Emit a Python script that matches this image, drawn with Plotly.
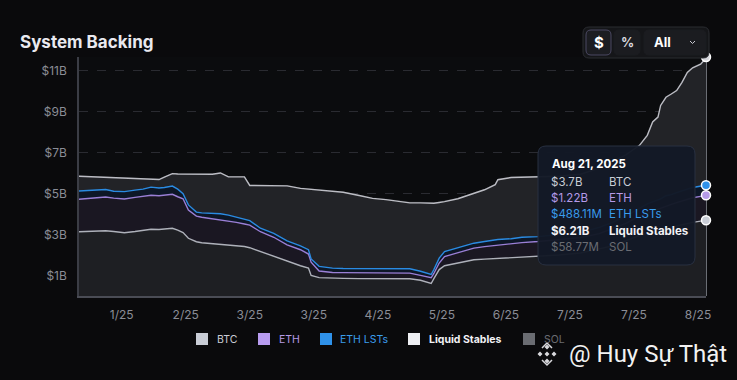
import plotly.graph_objects as go
import numpy as np

# ---------------- data ($B) ----------------
dates = [
    "2024-12-29", "2025-01-02", "2025-01-08", "2025-01-11", "2025-01-15", "2025-01-19",
    "2025-01-22", "2025-01-25", "2025-01-28", "2025-01-30", "2025-02-02", "2025-02-04",
    "2025-02-06", "2025-02-08", "2025-02-11", "2025-02-13", "2025-02-17", "2025-02-20",
    "2025-02-23", "2025-02-26", "2025-03-01", "2025-03-03", "2025-03-07", "2025-03-12",
    "2025-03-17", "2025-03-22", "2025-03-25", "2025-03-26", "2025-03-29", "2025-04-03",
    "2025-04-07", "2025-04-13", "2025-04-18", "2025-04-23", "2025-04-28", "2025-05-02",
    "2025-05-06", "2025-05-08", "2025-05-10", "2025-05-11", "2025-05-13", "2025-05-15",
    "2025-05-20", "2025-05-26", "2025-05-30", "2025-06-03", "2025-06-04", "2025-06-09",
    "2025-06-13", "2025-06-19", "2025-06-27", "2025-07-05", "2025-07-12", "2025-07-17",
    "2025-07-22", "2025-07-27", "2025-07-30", "2025-08-01", "2025-08-03", "2025-08-04",
    "2025-08-06", "2025-08-08", "2025-08-10", "2025-08-12", "2025-08-14", "2025-08-16",
    "2025-08-19", "2025-08-21",
]
btc = [
    3.14, 3.15, 3.19, 3.15, 3.09, 3.15, 3.22, 3.26, 3.25, 3.28, 3.31, 3.22,
    3.10, 2.82, 2.65, 2.60, 2.56, 2.53, 2.48, 2.44, 2.42, 2.36, 2.17, 1.93,
    1.69, 1.48, 1.37, 1.00, 0.90, 0.87, 0.86, 0.85, 0.85, 0.85, 0.85, 0.84,
    0.77, 0.70, 0.61, 0.85, 1.29, 1.48, 1.61, 1.77, 1.80, 1.83, 1.84, 1.87,
    1.90, 1.93, 2.00, 2.10, 2.30, 2.45, 2.70, 2.95, 3.05, 3.10, 3.18, 3.22,
    3.30, 3.35, 3.42, 3.48, 3.55, 3.60, 3.66, 3.70,
]
eth = [
    1.59, 1.61, 1.65, 1.63, 1.65, 1.67, 1.66, 1.66, 1.65, 1.65, 1.66, 1.63,
    1.65, 1.38, 1.25, 1.25, 1.22, 1.21, 1.20, 1.16, 1.10, 1.10, 0.97, 0.94,
    0.81, 0.78, 0.68, 0.65, 0.32, 0.28, 0.28, 0.28, 0.28, 0.28, 0.28, 0.28,
    0.24, 0.25, 0.28, 0.25, 0.32, 0.45, 0.52, 0.57, 0.61, 0.64, 0.65, 0.68,
    0.71, 0.73, 0.75, 0.75, 0.75, 0.85, 0.85, 0.95, 1.00, 1.05, 1.07, 1.08,
    1.10, 1.13, 1.14, 1.17, 1.17, 1.20, 1.21, 1.22,
]
eth_lsts = [
    0.40, 0.39, 0.36, 0.34, 0.36, 0.35, 0.34, 0.40, 0.38, 0.37, 0.40, 0.37,
    0.25, 0.25, 0.20, 0.21, 0.26, 0.28, 0.27, 0.25, 0.24, 0.22, 0.17, 0.19,
    0.19, 0.19, 0.21, 0.16, 0.23, 0.21, 0.20, 0.21, 0.22, 0.21, 0.20, 0.21,
    0.20, 0.18, 0.16, 0.19, 0.24, 0.24, 0.24, 0.24, 0.25, 0.27, 0.27, 0.25,
    0.26, 0.24, 0.25, 0.25, 0.30, 0.30, 0.35, 0.40, 0.45, 0.45, 0.45, 0.45,
    0.50, 0.47, 0.49, 0.50, 0.50, 0.50, 0.49, 0.488,
]
liquid_stables = [
    0.72, 0.68, 0.61, 0.68, 0.68, 0.57, 0.50, 0.38, 0.41, 0.51, 0.61, 0.74,
    0.96, 1.51, 1.85, 1.89, 1.91, 1.99, 1.87, 1.97, 2.06, 1.72, 2.09, 2.33,
    2.69, 2.81, 2.97, 3.41, 3.74, 3.77, 3.73, 3.57, 3.42, 3.37, 3.31, 3.22,
    3.34, 3.42, 3.47, 3.24, 2.72, 2.44, 2.38, 2.45, 2.53, 2.70, 2.92, 2.99,
    2.93, 2.91, 2.85, 2.85, 2.90, 2.95, 3.00, 3.05, 3.35, 3.90, 4.04, 4.56,
    4.81, 4.92, 4.99, 5.29, 5.70, 5.85, 5.97, 6.21,
]
sol = [0.04] * 35 + [0.05] * 32 + [0.059]

series_names = ["BTC", "ETH", "ETH LSTs", "Liquid Stables", "SOL"]
tooltip_date = "Aug 21, 2025"
tooltip_values = ["$3.7B", "$1.22B", "$488.11M", "$6.21B", "$58.77M"]

x_tick_dates = ["2025-01-14", "2025-02-07", "2025-03-03", "2025-03-27", "2025-04-20",
                "2025-05-14", "2025-06-07", "2025-07-01", "2025-07-25", "2025-08-18"]
x_tick_labels = ["1/25", "2/25", "3/25", "3/25", "4/25", "5/25", "6/25", "7/25", "7/25", "8/25"]
y_tick_vals = [1, 3, 5, 7, 9, 11]
y_tick_labels = ["$1B", "$3B", "$5B", "$7B", "$9B", "$11B"]

# ---------------- styling ----------------
W, H = 737, 380
L, R, T, B = 79, 706, 57, 296
FONT = "Inter"

line_colors = ["#aeb1ba", "#9a7fd6", "#2a8be2", "#bcbdc4", "rgba(0,0,0,0)"]
fill_colors = ["#1e1f23", "#1a1722", "#0d1727", "#222327", "#26272b"]
legend_colors = ["#c9cdd6", "#b89cf0", "#2f92ea", "#eeeff3", "#6a6c72"]
text_colors = ["#c9cdd6", "#b59ae8", "#3a9cec", "#f2f2f6", "#6a6c72"]


def X(px):
    return (px - L) / (R - L)


def Y(py):
    return (B - py) / (B - T)


fig = go.Figure()
all_series = [btc, eth, eth_lsts, liquid_stables, sol]
for name, vals, lc, fc in zip(series_names, all_series, line_colors, fill_colors):
    fig.add_trace(go.Scatter(
        x=dates, y=vals, name=name, mode="lines", stackgroup="one",
        line=dict(color=lc, width=1.4), fillcolor=fc, showlegend=False, hoverinfo="skip",
    ))

# hover markers at last date (cumulative tops)
cum = np.cumsum(np.array(all_series), axis=0)
marker_cols = ["#c9cdd6", "#b59ae8", "#2f92ea", None, "#d4d5db"]
for i, mc in enumerate(marker_cols):
    if mc is None:
        continue
    fig.add_trace(go.Scatter(
        x=[dates[-1]], y=[cum[i, -1]], mode="markers", showlegend=False, hoverinfo="skip",
        marker=dict(size=9, color=mc, line=dict(color="#ffffff", width=1.5)),
        cliponaxis=False,
    ))

shapes = []
annotations = []


def note(px, py, text, size, color, xanchor="left", family=FONT):
    annotations.append(dict(x=X(px), y=Y(py), xref="paper", yref="paper", text=text,
                            showarrow=False, xanchor=xanchor, yanchor="middle",
                            font=dict(family=family, size=size, color=color)))


# crosshair
shapes.append(dict(type="line", xref="paper", yref="paper", x0=1, x1=1, y0=0, y1=1,
                   line=dict(color="#8d9099", width=1.5), layer="below"))


def rrect(x0, y0, x1, y1, r):
    return (f"M {X(x0 + r)} {Y(y0)} L {X(x1 - r)} {Y(y0)} Q {X(x1)} {Y(y0)} {X(x1)} {Y(y0 + r)} "
            f"L {X(x1)} {Y(y1 - r)} Q {X(x1)} {Y(y1)} {X(x1 - r)} {Y(y1)} "
            f"L {X(x0 + r)} {Y(y1)} Q {X(x0)} {Y(y1)} {X(x0)} {Y(y1 - r)} "
            f"L {X(x0)} {Y(y0 + r)} Q {X(x0)} {Y(y0)} {X(x0 + r)} {Y(y0)} Z")


# tooltip box
shapes.append(dict(type="path", xref="paper", yref="paper", path=rrect(538, 146, 695, 265, 8),
                   fillcolor="rgba(19,25,38,0.97)", line=dict(color="#283041", width=1), layer="above"))
note(550, 164, "<b>" + tooltip_date + "</b>", 11.5, "#ffffff")
row_y = [182, 198, 214, 231, 247]
for i in range(5):
    vt = tooltip_values[i]
    nt = series_names[i]
    if i == 3:
        vt = "<b>" + vt + "</b>"
        nt = "<b>" + nt + "</b>"
    note(549, row_y[i], vt, 11.5, text_colors[i])
    note(607, row_y[i], nt, 11.5, text_colors[i])

# title
note(18, 42, "<b>System Backing</b>", 17, "#e9e9ef")

# top-right control buttons
shapes.append(dict(type="path", xref="paper", yref="paper", path=rrect(583, 27, 709, 58, 6),
                   fillcolor="#151619", line=dict(color="#2a2c31", width=1), layer="above"))
shapes.append(dict(type="path", xref="paper", yref="paper", path=rrect(586, 30, 611, 55, 5),
                   fillcolor="#1c1d22", line=dict(color="#4b4862", width=1), layer="above"))
shapes.append(dict(type="path", xref="paper", yref="paper", path=rrect(614, 30, 640, 55, 5),
                   fillcolor="#1b1c20", line=dict(color="#1b1c20", width=1), layer="above"))
shapes.append(dict(type="path", xref="paper", yref="paper", path=rrect(644, 30, 706, 55, 5),
                   fillcolor="#1b1c20", line=dict(color="#1b1c20", width=1), layer="above"))
note(598.5, 42.5, "<b>$</b>", 15, "#ffffff", xanchor="center")
note(627, 42.5, "<b>%</b>", 13, "#d8d8de", xanchor="center")
note(652, 42.5, "<b>All</b>", 13, "#ffffff")
shapes.append(dict(type="path", xref="paper", yref="paper",
                   path=f"M {X(690)} {Y(41)} L {X(692.5)} {Y(43.5)} L {X(695)} {Y(41)}",
                   line=dict(color="#c8c8d0", width=1), layer="above"))

# legend (manual)
legend_sq_x = [196, 258, 320, 408, 523]
legend_tx_x = [215, 277, 338, 427, 542]
for i in range(5):
    shapes.append(dict(type="rect", xref="paper", yref="paper",
                       x0=X(legend_sq_x[i]), x1=X(legend_sq_x[i] + 12), y0=Y(333), y1=Y(345),
                       fillcolor=legend_colors[i], line=dict(width=0), layer="above"))
    label = series_names[i]
    if i == 3:
        label = "<b>" + label + "</b>"
    note(legend_tx_x[i], 339.5, label, 10.5, text_colors[i])

# watermark
note(567, 354, "@ Huy Sự Thật", 24, "#f2f2f2", family="Roboto")
cx, cy = 547, 354


def diamond(x, y, s):
    return f"M {X(x)} {Y(y - s)} L {X(x + s)} {Y(y)} L {X(x)} {Y(y + s)} L {X(x - s)} {Y(y)} Z "


logo = diamond(cx, cy, 2.5) + diamond(cx, cy - 7, 2.5) + diamond(cx, cy + 7, 2.5) \
    + diamond(cx - 7, cy, 2.5) + diamond(cx + 7, cy, 2.5)
shapes.append(dict(type="path", xref="paper", yref="paper", path=logo,
                   fillcolor="#d8d8dc", line=dict(width=0), layer="above"))
shapes.append(dict(type="path", xref="paper", yref="paper",
                   path=f"M {X(cx - 5)} {Y(cy - 6)} L {X(cx)} {Y(cy - 11)} L {X(cx + 5)} {Y(cy - 6)} "
                        f"M {X(cx - 5)} {Y(cy + 6)} L {X(cx)} {Y(cy + 11)} L {X(cx + 5)} {Y(cy + 6)}",
                   line=dict(color="#d8d8dc", width=1.5), layer="above"))

fig.update_layout(
    width=W, height=H,
    margin=dict(l=L, r=W - R, t=T, b=H - B),
    paper_bgcolor="#0a0a0c", plot_bgcolor="#0b0c0e",
    font=dict(family=FONT, color="#8a8d96", size=12),
    showlegend=False,
    shapes=shapes, annotations=annotations,
    xaxis=dict(
        type="date", range=[dates[0], dates[-1]],
        tickvals=x_tick_dates, ticktext=x_tick_labels,
        showgrid=False, zeroline=False,
        showline=True, linecolor="#4a4c55", linewidth=2,
        ticks="", ticklabelstandoff=7,
        tickfont=dict(family=FONT, size=12, color="#8a8d96"),
    ),
    yaxis=dict(
        range=[0, float(cum[-1, -1])],
        tickvals=y_tick_vals, ticktext=y_tick_labels,
        showgrid=True, gridcolor="#2a2b31", griddash="dash", gridwidth=1,
        zeroline=False,
        showline=True, linecolor="#3b3d45", linewidth=1.5,
        ticks="", ticklabelstandoff=8,
        tickfont=dict(family=FONT, size=12, color="#8a8d96"),
    ),
)

fig.write_html(
    "out.html",
    config={"displayModeBar": False},
    post_script="document.body.style.margin='0';document.body.style.background='#0a0a0c';",
)
